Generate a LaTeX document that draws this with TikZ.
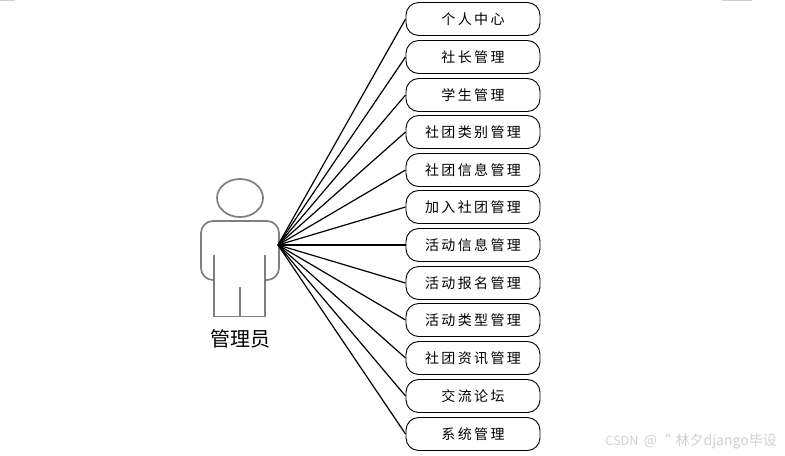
\documentclass[tikz,border=0pt]{standalone}
\usepackage{fontspec}
\newfontfamily\cjk{Noto Sans CJK SC}
\newfontfamily\cjkwide[LetterSpace=17]{Noto Sans CJK SC}
\definecolor{figgray}{HTML}{7F7F7F}
\definecolor{markgray}{HTML}{D0D0D0}
\tikzset{
  funcbox/.style={draw,rounded corners=9.5pt,line width=0.7pt,minimum width=100.5pt,minimum height=24.75pt,
    inner sep=0pt,font=\cjkwide\fontsize{10.5pt}{12pt}\selectfont},
  figline/.style={draw=figgray,line width=1.3pt},
  link/.style={line width=0.9pt}
}
\begin{document}
\begin{tikzpicture}[x=0.75pt,y=-0.75pt]

% Page
\useasboundingbox (0,0) rectangle (785,455);

% Marks at the top edge
\fill[markgray] (0,0) rectangle (15,1);
\fill[markgray] (722,0) rectangle (752,1);

% Figure
\draw[figline] (240,198) ellipse (23 and 19);
\draw[figline,rounded corners=9pt]
(214,280)--(201,280)--(201,221)--(279,221)--(279,280)--(265,280);
\draw[figline] (214,255)--(214,316.5)--(265,316.5)--(265,255);
\draw[figline] (240,287)--(240,316.5);
\node[font=\cjk\fontsize{15pt}{18pt}\selectfont] (admin) at (240,339) {管理员};
\coordinate (hub) at (278,245);

% Boxes
\node[funcbox] (center) at (473,19) {个人中心};
\node[funcbox] (leader) at (473,57) {社长管理};
\node[funcbox] (student) at (473,95) {学生管理};
\node[funcbox] (clubtype) at (473,132) {社团类别管理};
\node[funcbox] (clubinfo) at (473,170) {社团信息管理};
\node[funcbox] (join) at (473,207) {加入社团管理};
\node[funcbox] (actinfo) at (473,245) {活动信息管理};
\node[funcbox] (signup) at (473,283) {活动报名管理};
\node[funcbox] (acttype) at (473,320) {活动类型管理};
\node[funcbox] (news) at (473,358) {社团资讯管理};
\node[funcbox] (forum) at (473,396) {交流论坛};
\node[funcbox] (system) at (473,434) {系统管理};

% Links
\foreach \boxname in {center,leader,student,clubtype,clubinfo,join,actinfo,signup,acttype,news,forum,system}
  \draw[link] (hub)--(\boxname.west);

% Watermark
\node[anchor=east,inner sep=0pt,text=markgray,font=\cjk\fontsize{10.5pt}{12pt}\selectfont] (mark) at (777,441)
{{\fontsize{9.5pt}{12pt}\selectfont CSDN}\hspace{4pt}@“\hspace{1pt}\ 林夕django毕设};

\end{tikzpicture}
\end{document}
